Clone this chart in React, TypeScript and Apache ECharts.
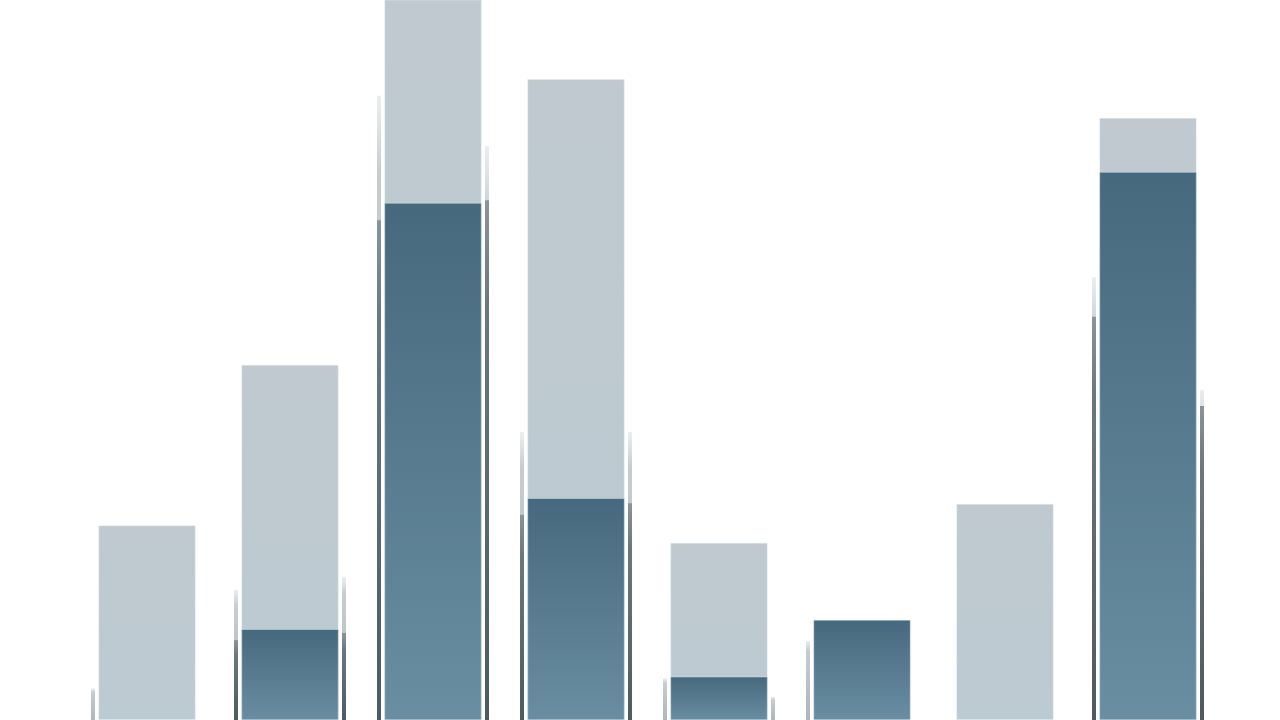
import React, { useEffect, useRef } from "react";
import * as echarts from "echarts";

const categories = ["A", "B", "C", "D", "E", "F", "G", "H"];
const totalValues = [27, 49.3, 106, 89, 24.6, 0, 30, 83.6];
const actualValues = [0, 12.6, 71.8, 30.8, 6, 13.9, 0, 76.1];
const leftEdgeLight = [4.4, 18.1, 86.7, 40, 5.8, 11, 0, 61.5];
const leftEdgeDark = [0, 11.1, 69.4, 28.5, 0, 0, 0, 56];
const rightEdgeLight = [0, 19.9, 79.7, 40, 3.2, 0, 0, 45.8];
const rightEdgeDark = [0, 12.1, 72.2, 30.1, 0, 0, 0, 43.6];

const lg = (stops: [number, string][]) =>
  new echarts.graphic.LinearGradient(
    0,
    0,
    0,
    1,
    stops.map(([offset, color]) => ({ offset, color }))
  );

export default function App() {
  const ref = useRef<HTMLDivElement>(null);
  useEffect(() => {
    document.body.style.margin = "0";
    const chart = echarts.init(ref.current!, null, { renderer: "svg" });
    const gridW = 1144;
    const mainLeft = 75.5;
    const off = 54;
    const grids = [
      { left: mainLeft - off, top: 0, width: gridW, height: 720 },
      { left: mainLeft + off, top: 0, width: gridW, height: 720 },
      { left: mainLeft, top: 0, width: gridW, height: 720 },
    ];
    const xAxes = grids.map((_, i) => ({
      type: "category",
      gridIndex: i,
      data: categories,
      show: false,
      boundaryGap: true,
    }));
    const yAxes = grids.map((_, i) => ({
      type: "value",
      gridIndex: i,
      min: 0,
      max: 100,
      show: false,
    }));
    const edgeLight = lg([
      [0, "rgba(215,220,223,0.5)"],
      [0.12, "#c6cccf"],
      [1, "#aeb6bb"],
    ]);
    const edgeDark = lg([
      [0, "#8b949a"],
      [0.2, "#6c767d"],
      [1, "#4e5960"],
    ]);
    const mk = (data: number[], idx: number, itemStyle: any, width: number) => ({
      type: "bar",
      xAxisIndex: idx,
      yAxisIndex: idx,
      data,
      barWidth: width,
      barGap: "-100%",
      itemStyle,
      silent: true,
    });
    chart.setOption({
      animation: false,
      backgroundColor: "#ffffff",
      grid: grids,
      xAxis: xAxes,
      yAxis: yAxes,
      series: [
        mk(leftEdgeLight, 0, { color: edgeLight }, 4),
        mk(leftEdgeDark, 0, { color: edgeDark }, 4),
        mk(rightEdgeLight, 1, { color: edgeLight }, 4),
        mk(rightEdgeDark, 1, { color: edgeDark }, 4),
        mk(
          totalValues,
          2,
          {
            color: lg([
              [0, "#bfc9cf"],
              [1, "#bccad1"],
            ]),
            borderColor: "rgba(230,240,245,0.9)",
            borderWidth: 0.5,
          },
          97
        ),
        mk(
          actualValues,
          2,
          {
            color: lg([
              [0, "#46697d"],
              [1, "#6a8ea1"],
            ]),
            borderColor: "rgba(215,235,245,0.9)",
            borderWidth: 0.5,
          },
          97
        ),
      ],
    });
    return () => chart.dispose();
  }, []);
  return <div ref={ref} style={{ width: 1280, height: 720 }} />;
}
